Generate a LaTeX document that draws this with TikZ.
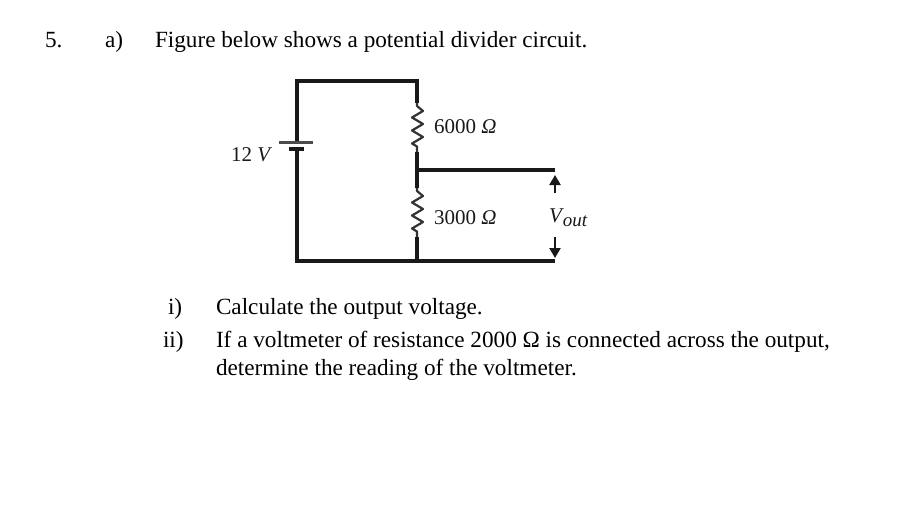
\documentclass[tikz,border=0pt]{standalone}
\usepackage{fontspec}
\setmainfont{Liberation Serif}
\usetikzlibrary{arrows.meta}
\tikzset{
  txt/.style={anchor=base west,inner sep=0pt,outer sep=0pt,text=black,font=\fontsize{23.2}{27}\selectfont},
  lbl/.style={anchor=base west,inner sep=0pt,outer sep=0pt,text=black!90,font=\fontsize{21}{25}\selectfont},
  wire/.style={line width=3.3pt,black!90,line cap=butt,line join=miter},
  zig/.style={line width=2.2pt,black!80,line join=round},
  plate/.style={line width=3pt,black!70},
  vout/.style={line width=2.2pt,black!90,-{Triangle[length=10pt,width=11pt]}}
}
\begin{document}
\begin{tikzpicture}[x=1pt,y=-1pt]
\useasboundingbox[fill=white] (0,0) rectangle (912,516);
% text
\node[txt] (n5) at (45,48) {5.};
\node[txt] (na) at (105,48) {a)};
\node[txt] (t1) at (155,48) {Figure below shows a potential divider circuit.};
\node[txt] (ni) at (168,314) {i)};
\node[txt] (t2) at (216,314) {Calculate the output voltage.};
\node[txt] (nii) at (163,347) {ii)};
\node[txt] (t3) at (216,347) {If a voltmeter of resistance 2000 Ω is connected across the output,};
\node[txt] (t4) at (216,375) {determine the reading of the voltmeter.};
% labels
\node[lbl] (v12) at (231,161) {12 \textit{V}};
\node[lbl] (r1l) at (434,133) {6000 \textit{Ω}};
\node[lbl] (r2l) at (434,224) {3000 \textit{Ω}};
\node[lbl] (voutl) at (549,222) {\textit{V}\hspace{-1pt}\raisebox{-4pt}{\fontsize{19}{22}\selectfont\textit{out}}};
% junctions
\coordinate (tl) at (297,81);
\coordinate (tr) at (417,81);
\coordinate (bl) at (297,261);
\coordinate (bm) at (417,261);
\coordinate (br) at (555,261);
\coordinate (tap) at (417,170);
\coordinate (tapr) at (555,170);
\coordinate (b1) at (297,142);
\coordinate (b2) at (297,149);
\coordinate (r1a) at (417,103);
\coordinate (r1b) at (417,152);
\coordinate (r2a) at (417,188);
\coordinate (r2b) at (417,237);
\coordinate (p1a) at (279,142);
\coordinate (p1b) at (313,142);
\coordinate (p2a) at (289,149);
\coordinate (p2b) at (304,149);
\coordinate (ua) at (555,193);
\coordinate (ub) at (555,175);
\coordinate (da) at (555,237);
\coordinate (db) at (555,258);
% wires
\draw[wire] (b1) -- (tl) -- (tr) -- (r1a);
\draw[wire] (r1b) -- (r2a);
\draw[wire] (r2b) -- (bm);
\draw[wire] (b2) -- (bl) -- (br);
\draw[wire] (tap) -- (tapr);
% battery
\draw[plate] (p1a) -- (p1b);
\draw[line width=3.6pt,black!90] (p2a) -- (p2b);
% resistors
\draw[zig] (r1a) -- ++(0,3) -- ++(6,5) -- ++(-11,6.5) -- ++(11,6.5) -- ++(-11,6.5) -- ++(11,6.5) -- ++(-11,6.5) -- ++(5,3) -- (r1b);
\draw[zig] (r2a) -- ++(0,3) -- ++(6,5) -- ++(-11,6.5) -- ++(11,6.5) -- ++(-11,6.5) -- ++(11,6.5) -- ++(-11,6.5) -- ++(5,3) -- (r2b);
% output arrows
\draw[vout] (ua) -- (ub);
\draw[vout] (da) -- (db);
\end{tikzpicture}
\end{document}
